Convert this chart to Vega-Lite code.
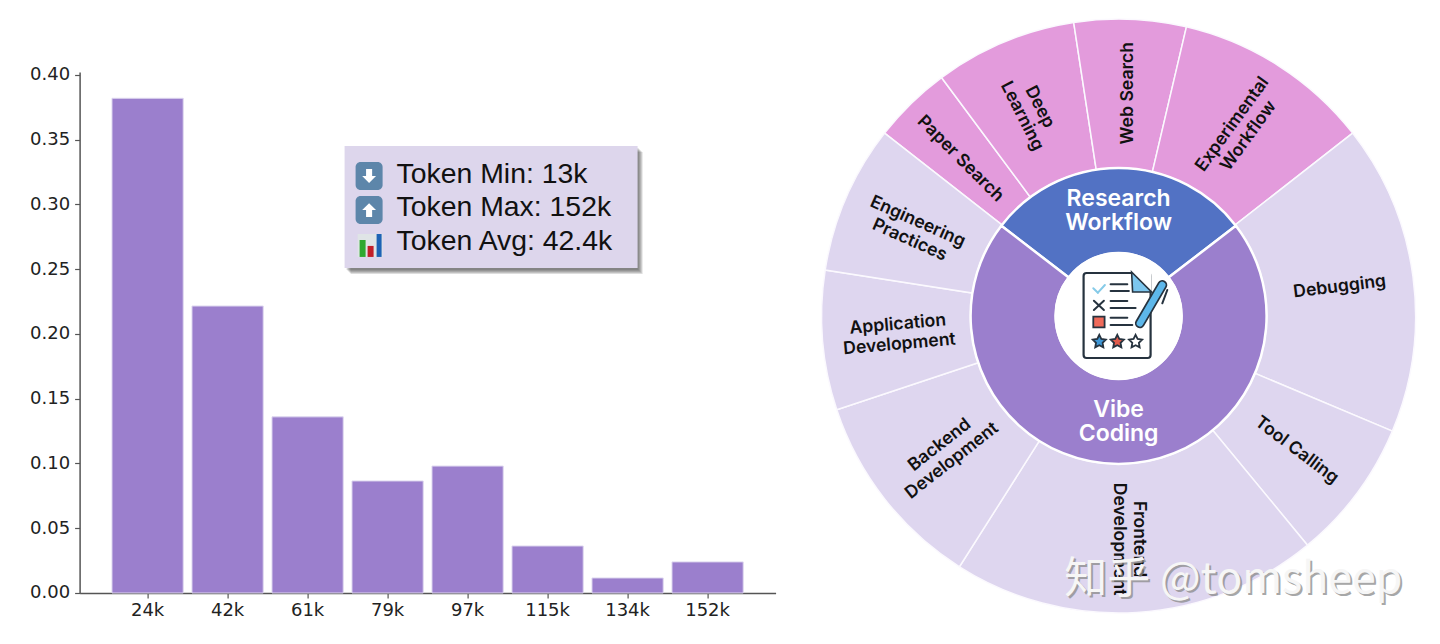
{
  "$schema": "https://vega.github.io/schema/vega-lite/v6.json",
  "background": "white",
  "padding": {"left": 28.6, "top": 16, "right": 5, "bottom": 5},
  "spacing": 43,
  "config": {"view": {"stroke": null}, "font": "DejaVu Sans"},
  "datasets": {
    "tokens": [
      {"bucket": "24k", "share": 0.382},
      {"bucket": "42k", "share": 0.2216},
      {"bucket": "61k", "share": 0.136},
      {"bucket": "79k", "share": 0.0865},
      {"bucket": "97k", "share": 0.098},
      {"bucket": "115k", "share": 0.0363},
      {"bucket": "134k", "share": 0.0116},
      {"bucket": "152k", "share": 0.024}
    ],
    "shadow": [
      {"x": 267, "x2": 559, "y": 0.3437, "y2": 0.2495},
      {"x": 268, "x2": 560, "y": 0.3429, "y2": 0.2487},
      {"x": 269, "x2": 561, "y": 0.3421, "y2": 0.2479},
      {"x": 270, "x2": 562, "y": 0.3413, "y2": 0.2471},
      {"x": 271, "x2": 563, "y": 0.3406, "y2": 0.2464}
    ],
    "box": [
      {"part": "box", "x": 265, "x2": 558, "y": 0.3452, "y2": 0.251},
      {"part": "pale", "x": 278, "x2": 303, "y": 0.2772, "y2": 0.2595},
      {"part": "green", "x": 280, "x2": 286, "y": 0.2726, "y2": 0.2595},
      {"part": "red", "x": 288, "x2": 294, "y": 0.268, "y2": 0.2595},
      {"part": "blue", "x": 297, "x2": 302, "y": 0.2772, "y2": 0.2595}
    ],
    "arrowIcons": [
      {"x": 276, "x2": 303, "y": 0.3328, "y2": 0.3112},
      {"x": 276, "x2": 303, "y": 0.3066, "y2": 0.2849}
    ],
    "boxText": [
      {"label": "Token Min: 13k", "x": 317, "y": 0.3236},
      {"label": "Token Max: 152k", "x": 317, "y": 0.2981},
      {"label": "Token Avg: 42.4k", "x": 317, "y": 0.2718}
    ],
    "outer": [
      {"name": "Paper Search", "group": "research", "t0": -52, "t1": -36.6, "r0": 148, "r1": 297},
      {"name": "Deep Learning", "group": "research", "t0": -36.6, "t1": -8.7, "r0": 148, "r1": 297},
      {"name": "Web Search", "group": "research", "t0": -8.7, "t1": 13.2, "r0": 148, "r1": 297},
      {"name": "Experimental Workflow", "group": "research", "t0": 13.2, "t1": 52, "r0": 148, "r1": 297},
      {"name": "Debugging", "group": "vibe", "t0": 52, "t1": 112.8, "r0": 148, "r1": 297},
      {"name": "Tool Calling", "group": "vibe", "t0": 112.8, "t1": 140.5, "r0": 148, "r1": 297},
      {"name": "Frontend Development", "group": "vibe", "t0": 140.5, "t1": 212.4, "r0": 148, "r1": 297},
      {"name": "Backend Development", "group": "vibe", "t0": 212.4, "t1": 251.6, "r0": 148, "r1": 297},
      {"name": "Application Development", "group": "vibe", "t0": 251.6, "t1": 278.9, "r0": 148, "r1": 297},
      {"name": "Engineering Practices", "group": "vibe", "t0": 278.9, "t1": 308, "r0": 148, "r1": 297}
    ],
    "inner": [
      {"name": "Research Workflow", "group": "research", "t0": -52.4, "t1": 52.4, "r0": 63, "r1": 148},
      {"name": "Vibe Coding", "group": "vibe", "t0": 52.4, "t1": 307.6, "r0": 63, "r1": 148}
    ],
    "hub": [{"t0": 0, "t1": 360, "r1": 63}],
    "outerLabels": [
      {"label": "Paper Search", "t": -45.2, "r": 223, "rot": 45},
      {"label": "Deep\nLearning", "t": -20.7, "r": 223.4, "rot": 63},
      {"label": "Web Search", "t": 2.3, "r": 223, "rot": -90},
      {"label": "Experimental\nWorkflow", "t": 30.7, "r": 223, "rot": -54},
      {"label": "Debugging", "t": 82.5, "r": 223, "rot": -7},
      {"label": "Tool Calling", "t": 127, "r": 223, "rot": 37},
      {"label": "Frontend\nDevelopment", "t": 174.9, "r": 224, "rot": 90},
      {"label": "Backend\nDevelopment", "t": 234.2, "r": 220.6, "rot": -38},
      {"label": "Application\nDevelopment", "t": 267.8, "r": 221, "rot": -5},
      {"label": "Engineering\nPractices", "t": 295.1, "r": 221.9, "rot": 24}
    ],
    "innerLabels": [
      {"label": "Research\nWorkflow", "t": 0, "r": 117},
      {"label": "Vibe\nCoding", "t": 180, "r": 94}
    ],
    "watermark": [{"label": "知乎 @tomsheep", "t": 156.5, "r": 288}],
    "docSheet": [{"x": -35, "x2": 32, "y": 43, "y2": -42}],
    "docLines": [
      {"part": "ink", "x": -8, "x2": 8.7, "y": 31.7, "y2": 31.7},
      {"part": "ink", "x": -8, "x2": 10.3, "y": 25, "y2": 25},
      {"part": "ink", "x": -8, "x2": 8.7, "y": 15, "y2": 15},
      {"part": "ink", "x": -8, "x2": 17, "y": 8, "y2": 8},
      {"part": "ink", "x": -8, "x2": 8.7, "y": -1.7, "y2": -1.7},
      {"part": "ink", "x": -8, "x2": 13.7, "y": -9, "y2": -9},
      {"part": "ink", "x": -24.7, "x2": -14.7, "y": 15.3, "y2": 6},
      {"part": "ink", "x": -24.7, "x2": -14.7, "y": 6, "y2": 15.3},
      {"part": "ink", "x": 48.7, "x2": 43.7, "y": 26, "y2": 12.7},
      {"part": "tick", "x": -25.3, "x2": -20.7, "y": 27.7, "y2": 23.3},
      {"part": "tick", "x": -20.7, "x2": -13.7, "y": 23.3, "y2": 31}
    ],
    "pencil": [{"x": 21.3, "x2": 43.7, "y": -7.3, "y2": 31}],
    "redSquare": [{"x": -25.3, "x2": -14, "y": -0.7, "y2": -11.3}],
    "stars": [
      {"star": "blue", "x": -19.3, "y": -25.7},
      {"star": "red", "x": -1.3, "y": -25.7},
      {"star": "white", "x": 17, "y": -25.7}
    ],
    "fold": [{"x": 23, "y": 34}]
  },
  "hconcat": [
    {
      "width": 696,
      "height": 600,
      "layer": [
        {
          "data": {"name": "tokens"},
          "mark": {"type": "bar", "color": "#9b7fcd", "stroke": "#ddd6ef", "strokeWidth": 1},
          "encoding": {
            "x": {
              "field": "bucket",
              "type": "nominal",
              "sort": null,
              "title": null,
              "scale": {"type": "band", "paddingInner": 0.11, "paddingOuter": 0.405},
              "axis": {"offset": -23, "labelAngle": 0, "labelFontSize": 18, "labelColor": "#222", "domainColor": "#555", "domainWidth": 1.5, "tickColor": "#555", "tickWidth": 1.2, "tickSize": 5, "labelPadding": 4, "grid": false}
            },
            "y": {
              "field": "share",
              "type": "quantitative",
              "title": null,
              "scale": {"domain": [0, 0.4023], "nice": false, "range": [577, 56]},
              "axis": {"values": [0, 0.05, 0.1, 0.15, 0.2, 0.25, 0.3, 0.35, 0.4], "format": ".2f", "labelFontSize": 18, "labelColor": "#222", "domainColor": "#555", "domainWidth": 1.5, "tickColor": "#555", "tickWidth": 1.2, "tickSize": 5, "labelPadding": 5, "grid": false}
            }
          }
        },
        {
          "data": {"name": "shadow"},
          "mark": {"type": "rect", "color": "#333", "opacity": 0.17},
          "encoding": {
            "x": {"field": "x", "type": "quantitative", "scale": {"domain": [0, 696]}, "axis": null},
            "x2": {"field": "x2"},
            "y": {"field": "y", "type": "quantitative"},
            "y2": {"field": "y2"}
          }
        },
        {
          "data": {"name": "box"},
          "mark": {"type": "rect"},
          "encoding": {
            "x": {"field": "x", "type": "quantitative", "scale": {"domain": [0, 696]}, "axis": null},
            "x2": {"field": "x2"},
            "y": {"field": "y", "type": "quantitative"},
            "y2": {"field": "y2"},
            "color": {
              "field": "part",
              "type": "nominal",
              "legend": null,
              "scale": {"domain": ["box", "pale", "green", "red", "blue"], "range": ["#ddd6ec", "#dfe4e6", "#2fa82f", "#c21f2a", "#1d63b5"]}
            }
          }
        },
        {
          "data": {"name": "arrowIcons"},
          "mark": {"type": "rect", "color": "#5d86aa", "cornerRadius": 5},
          "encoding": {
            "x": {"field": "x", "type": "quantitative", "scale": {"domain": [0, 696]}, "axis": null},
            "x2": {"field": "x2"},
            "y": {"field": "y", "type": "quantitative"},
            "y2": {"field": "y2"}
          }
        },
        {
          "data": {"name": "boxText"},
          "mark": {"type": "text", "font": "Liberation Sans", "fontSize": 28.4, "align": "left", "baseline": "middle", "color": "#111"},
          "encoding": {
            "x": {"field": "x", "type": "quantitative", "scale": {"domain": [0, 696]}, "axis": null},
            "y": {"field": "y", "type": "quantitative"},
            "text": {"field": "label"}
          }
        },
        {
          "data": {"values": [{"x": 289.5, "y": 0.322}]},
          "mark": {"type": "point", "filled": true, "opacity": 1, "color": "white", "size": 300, "shape": "M-0.35,-0.8 L0.35,-0.8 L0.35,0 L0.8,0 L0,0.8 L-0.8,0 L-0.35,0 Z"},
          "encoding": {
            "x": {"field": "x", "type": "quantitative", "scale": {"domain": [0, 696]}, "axis": null},
            "y": {"field": "y", "type": "quantitative"}
          }
        },
        {
          "data": {"values": [{"x": 289.5, "y": 0.2957}]},
          "mark": {"type": "point", "filled": true, "opacity": 1, "color": "white", "size": 300, "shape": "M-0.35,0.8 L0.35,0.8 L0.35,0 L0.8,0 L0,-0.8 L-0.8,0 L-0.35,0 Z"},
          "encoding": {
            "x": {"field": "x", "type": "quantitative", "scale": {"domain": [0, 696]}, "axis": null},
            "y": {"field": "y", "type": "quantitative"}
          }
        }
      ],
      "resolve": {"scale": {"x": "independent"}, "axis": {"x": "independent"}}
    },
    {
      "width": 600,
      "height": 600,
      "layer": [
        {
          "data": {"name": "outer"},
          "mark": {"type": "arc", "stroke": "#fbf9fe", "strokeWidth": 1.5},
          "encoding": {
            "theta": {"field": "t0", "type": "quantitative", "scale": {"domain": [0, 360], "range": [0, 6.28319]}},
            "theta2": {"field": "t1"},
            "radius": {"field": "r1", "type": "quantitative", "scale": {"type": "linear", "domain": [0, 300], "range": [0, 300]}},
            "radius2": {"field": "r0"},
            "color": {"field": "group", "type": "nominal", "legend": null, "scale": {"domain": ["research", "vibe"], "range": ["#e39bdc", "#ded6ef"]}}
          }
        },
        {
          "data": {"name": "inner"},
          "mark": {"type": "arc", "stroke": "white", "strokeWidth": 2.5},
          "encoding": {
            "theta": {"field": "t0", "type": "quantitative", "scale": {"domain": [0, 360], "range": [0, 6.28319]}},
            "theta2": {"field": "t1"},
            "radius": {"field": "r1", "type": "quantitative", "scale": {"type": "linear", "domain": [0, 300], "range": [0, 300]}},
            "radius2": {"field": "r0"},
            "fill": {"field": "group", "type": "nominal", "legend": null, "scale": {"domain": ["research", "vibe"], "range": ["#5272c4", "#9b7fcd"]}}
          }
        },
        {
          "data": {"name": "hub"},
          "mark": {"type": "arc", "color": "white", "stroke": "white", "strokeWidth": 2},
          "encoding": {
            "theta": {"field": "t0", "type": "quantitative", "scale": {"domain": [0, 360], "range": [0, 6.28319]}},
            "theta2": {"field": "t1"},
            "radius": {"field": "r1", "type": "quantitative", "scale": {"type": "linear", "domain": [0, 300], "range": [0, 300]}}
          }
        },
        {
          "data": {"name": "outerLabels"},
          "mark": {"type": "text", "font": "Inter", "fontSize": 17.6, "fontWeight": 600, "lineBreak": "\n", "lineHeight": 20, "align": "center", "baseline": "middle", "color": "#111"},
          "encoding": {
            "theta": {"field": "t", "type": "quantitative", "scale": {"domain": [0, 360], "range": [0, 6.28319]}},
            "radius": {"field": "r", "type": "quantitative", "scale": {"type": "linear", "domain": [0, 300], "range": [0, 300]}},
            "angle": {"field": "rot", "type": "quantitative", "scale": null},
            "text": {"field": "label"}
          }
        },
        {
          "data": {"name": "innerLabels"},
          "mark": {"type": "text", "font": "Inter", "fontSize": 23, "fontWeight": 600, "lineBreak": "\n", "lineHeight": 24, "align": "center", "baseline": "middle", "color": "white"},
          "encoding": {
            "theta": {"field": "t", "type": "quantitative", "scale": {"domain": [0, 360], "range": [0, 6.28319]}},
            "radius": {"field": "r", "type": "quantitative", "scale": {"type": "linear", "domain": [0, 300], "range": [0, 300]}},
            "text": {"field": "label"}
          }
        },
        {
          "data": {"name": "docSheet"},
          "mark": {"type": "rect", "fill": "white", "stroke": "#26333f", "strokeWidth": 2.2, "cornerRadius": 3},
          "encoding": {
            "x": {"field": "x", "type": "quantitative", "scale": {"domain": [-300, 300]}, "axis": null},
            "x2": {"field": "x2"},
            "y": {"field": "y", "type": "quantitative", "scale": {"domain": [-300, 300]}, "axis": null},
            "y2": {"field": "y2"}
          }
        },
        {
          "data": {"name": "fold"},
          "mark": {"type": "point", "filled": true, "opacity": 1, "color": "white", "size": 400, "shape": "M-1,-1 L1,-1 L1,1 Z"},
          "encoding": {
            "x": {"field": "x", "type": "quantitative", "scale": {"domain": [-300, 300]}, "axis": null},
            "y": {"field": "y", "type": "quantitative", "scale": {"domain": [-300, 300]}, "axis": null}
          }
        },
        {
          "data": {"name": "fold"},
          "mark": {"type": "point", "filled": true, "opacity": 1, "color": "#7cc6ee", "stroke": "#26333f", "strokeWidth": 1.6, "size": 400, "shape": "M-1,-1 L1,1 L-0.9,1 Z"},
          "encoding": {
            "x": {"field": "x", "type": "quantitative", "scale": {"domain": [-300, 300]}, "axis": null},
            "y": {"field": "y", "type": "quantitative", "scale": {"domain": [-300, 300]}, "axis": null}
          }
        },
        {
          "data": {"name": "docLines"},
          "mark": {"type": "rule", "strokeWidth": 2, "strokeCap": "round"},
          "encoding": {
            "x": {"field": "x", "type": "quantitative", "scale": {"domain": [-300, 300]}, "axis": null},
            "x2": {"field": "x2"},
            "y": {"field": "y", "type": "quantitative", "scale": {"domain": [-300, 300]}, "axis": null},
            "y2": {"field": "y2"},
            "color": {"field": "part", "type": "nominal", "legend": null, "scale": {"domain": ["ink", "tick"], "range": ["#26333f", "#86cbe8"]}}
          }
        },
        {
          "data": {"name": "redSquare"},
          "mark": {"type": "rect", "fill": "#ef6a5a", "stroke": "#26333f", "strokeWidth": 1.8},
          "encoding": {
            "x": {"field": "x", "type": "quantitative", "scale": {"domain": [-300, 300]}, "axis": null},
            "x2": {"field": "x2"},
            "y": {"field": "y", "type": "quantitative", "scale": {"domain": [-300, 300]}, "axis": null},
            "y2": {"field": "y2"}
          }
        },
        {
          "data": {"name": "stars"},
          "mark": {"type": "point", "filled": true, "opacity": 1, "stroke": "#26333f", "strokeWidth": 1.8, "size": 190, "shape": "M0,-1 L0.294,-0.405 L0.951,-0.309 L0.476,0.155 L0.588,0.809 L0,0.5 L-0.588,0.809 L-0.476,0.155 L-0.951,-0.309 L-0.294,-0.405 Z"},
          "encoding": {
            "x": {"field": "x", "type": "quantitative", "scale": {"domain": [-300, 300]}, "axis": null},
            "y": {"field": "y", "type": "quantitative", "scale": {"domain": [-300, 300]}, "axis": null},
            "fill": {"field": "star", "type": "nominal", "legend": null, "scale": {"domain": ["blue", "red", "white"], "range": ["#3f97d6", "#e25c4c", "#ffffff"]}}
          }
        },
        {
          "data": {"name": "pencil"},
          "mark": {"type": "rule", "stroke": "#26333f", "strokeWidth": 10, "strokeCap": "round"},
          "encoding": {
            "x": {"field": "x", "type": "quantitative", "scale": {"domain": [-300, 300]}, "axis": null},
            "x2": {"field": "x2"},
            "y": {"field": "y", "type": "quantitative", "scale": {"domain": [-300, 300]}, "axis": null},
            "y2": {"field": "y2"}
          }
        },
        {
          "data": {"name": "pencil"},
          "mark": {"type": "rule", "stroke": "#5db7ea", "strokeWidth": 6.5, "strokeCap": "round"},
          "encoding": {
            "x": {"field": "x", "type": "quantitative", "scale": {"domain": [-300, 300]}, "axis": null},
            "x2": {"field": "x2"},
            "y": {"field": "y", "type": "quantitative", "scale": {"domain": [-300, 300]}, "axis": null},
            "y2": {"field": "y2"}
          }
        },
        {
          "data": {"name": "watermark"},
          "mark": {"type": "text", "font": "Noto Sans CJK SC", "fontSize": 43, "align": "center", "baseline": "middle", "color": "#8a8a8a", "opacity": 0.75, "dx": 2, "dy": 2},
          "encoding": {
            "theta": {"field": "t", "type": "quantitative", "scale": {"domain": [0, 360], "range": [0, 6.28319]}},
            "radius": {"field": "r", "type": "quantitative", "scale": {"type": "linear", "domain": [0, 300], "range": [0, 300]}},
            "text": {"field": "label"}
          }
        },
        {
          "data": {"name": "watermark"},
          "mark": {"type": "text", "font": "Noto Sans CJK SC", "fontSize": 43, "align": "center", "baseline": "middle", "color": "#f6f6f6"},
          "encoding": {
            "theta": {"field": "t", "type": "quantitative", "scale": {"domain": [0, 360], "range": [0, 6.28319]}},
            "radius": {"field": "r", "type": "quantitative", "scale": {"type": "linear", "domain": [0, 300], "range": [0, 300]}},
            "text": {"field": "label"}
          }
        }
      ],
      "resolve": {"scale": {"color": "independent", "fill": "independent"}}
    }
  ]
}
